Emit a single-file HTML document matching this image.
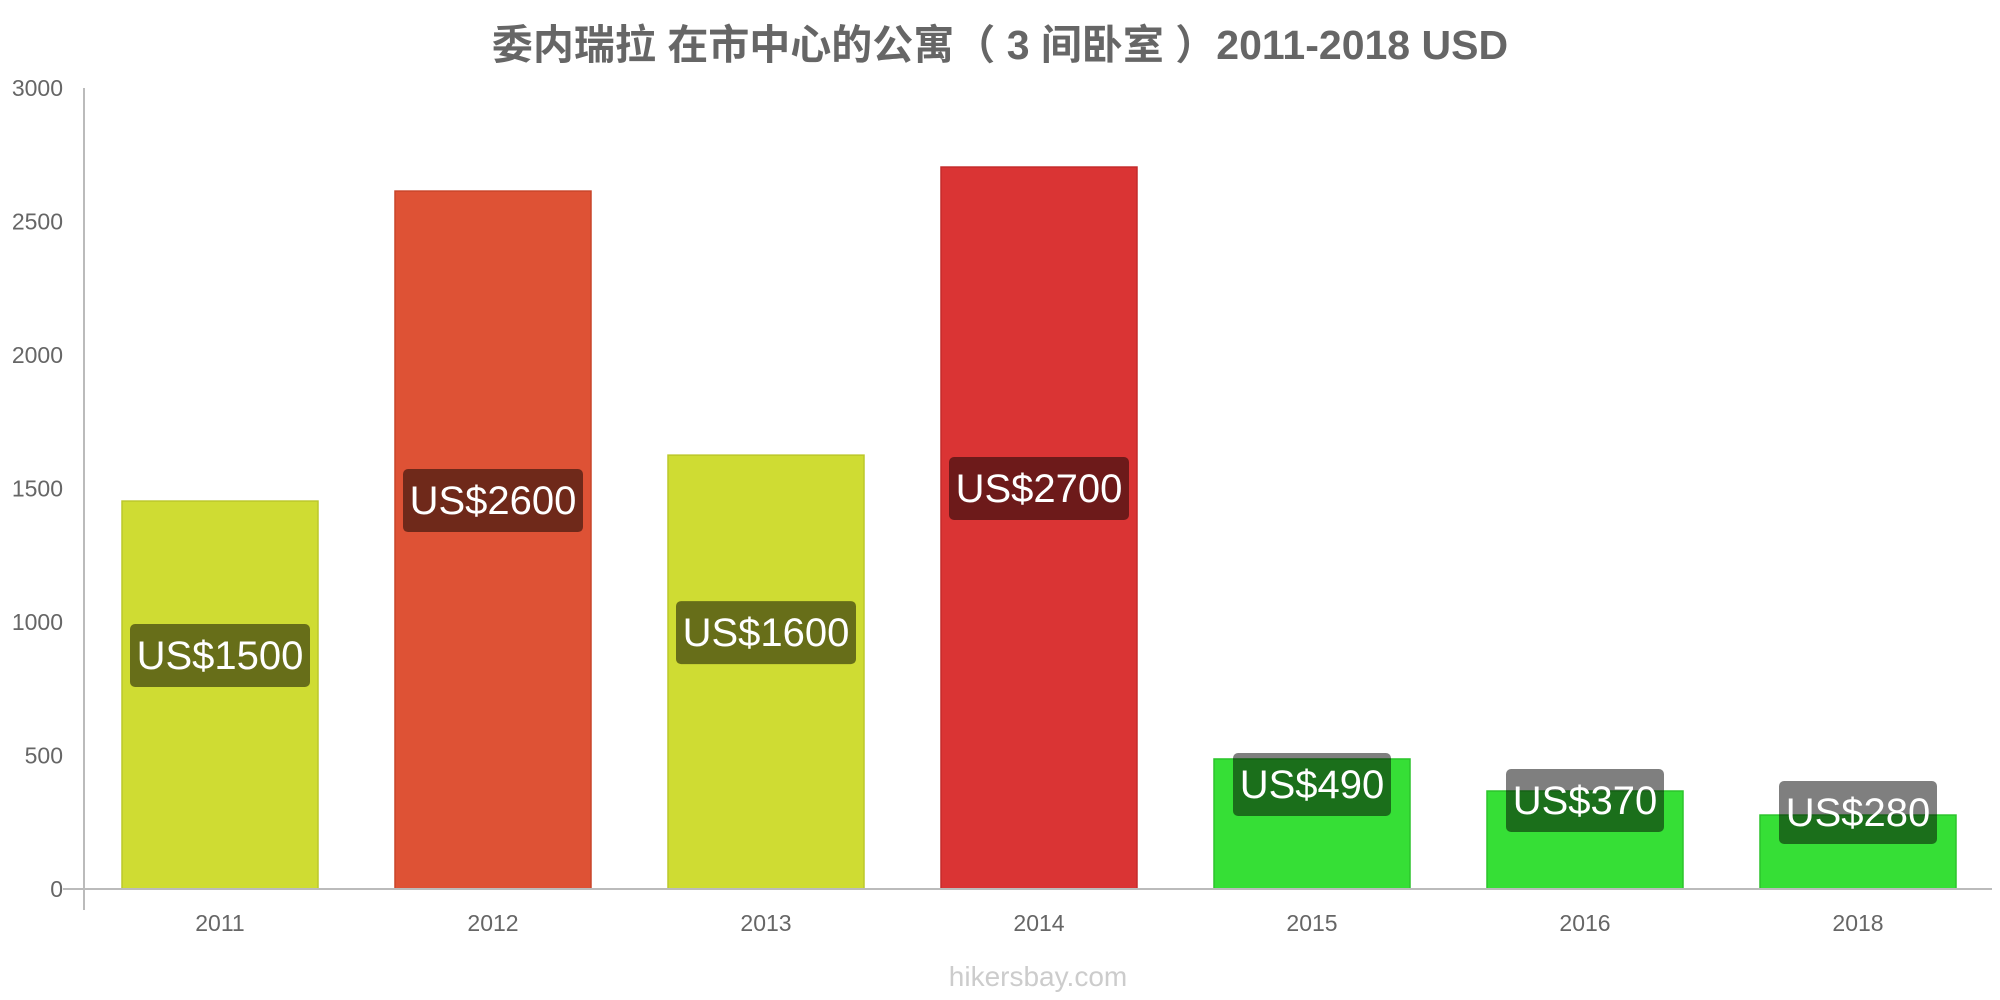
<!DOCTYPE html>
<html><head><meta charset="utf-8"><style>
body{margin:0;background:#fff;}
svg{display:block;font-family:"Liberation Sans","Noto Sans CJK SC",sans-serif;}
</style></head><body>
<svg id="chart" width="2000" height="1000">
<text x="1000" y="59" text-anchor="middle" font-size="41" font-weight="bold" fill="#666">委内瑞拉 在市中心的公寓（ 3 间卧室 ）2011-2018 USD</text>
<g id="yaxis"></g>
<g id="bars"></g>
<g id="xaxis"></g>
<text x="1038" y="986" text-anchor="middle" font-size="28" fill="#ccc">hikersbay.com</text>
</svg>
<script>
const categories=["2011","2012","2013","2014","2015","2016","2018"];
const values=[1453,2614,1625,2704,487,367,277];
const labels=["US$1500","US$2600","US$1600","US$2700","US$490","US$370","US$280"];
const colors=["#cfdc33","#de5235","#cfdc33","#da3434","#36df36","#36df36","#36df36"];
const borders=["#bcc82a","#c9452a","#bcc82a","#c42b2b","#2cc42c","#2cc42c","#2cc42c"];
const yTicks=[0,500,1000,1500,2000,2500,3000];
const NS="http://www.w3.org/2000/svg";
const x0=84,x1=1992,yTop=88,yBot=889,yMax=3000,step=273,first=220,bw=196;
const y=v=>yBot-(v/yMax)*(yBot-yTop);
const xc=i=>first+i*step;
function mk(tag,attrs,parent,txt){const e=document.createElementNS(NS,tag);for(const k in attrs)e.setAttribute(k,attrs[k]);if(txt!==undefined)e.textContent=txt;parent.appendChild(e);return e;}
const ya=document.getElementById('yaxis'),ba=document.getElementById('bars'),xa=document.getElementById('xaxis');
let l=mk('line',{x1:x0,y1:yTop,x2:x0,y2:910,stroke:'#bbb','stroke-width':2},ya);


yTicks.forEach(t=>{const e=mk('text',{x:63,y:y(t)+8,'text-anchor':'end','font-size':23,fill:'#666'},ya,String(t));

});
let tk=mk('line',{x1:63,y1:yBot,x2:x0,y2:yBot,stroke:'#bbb','stroke-width':2},ya);


categories.forEach((c,i)=>{
 const top=y(values[i]);
 const r=mk('rect',{x:xc(i)-bw/2,y:top,width:bw,height:yBot-top,fill:colors[i],stroke:borders[i],'stroke-width':1.5},ba);
 
 
 const cy=(top+yBot)/2-40;
 const g=mk('g',{},ba);
 
 
 const w=labels[i].length*22+26;
 mk('rect',{x:xc(i)-w/2,y:cy-31,width:w,height:63,rx:5,fill:'rgba(0,0,0,0.5)'},g);
 mk('text',{x:xc(i),y:cy+14,'text-anchor':'middle','font-size':40,fill:'#fff'},g,labels[i]);
 const t=mk('text',{x:xc(i),y:931,'text-anchor':'middle','font-size':23,fill:'#666'},xa,c);
 
 
});
let xl=mk('line',{x1:x0,y1:yBot,x2:x1,y2:yBot,stroke:'#bbb','stroke-width':2},xa);


</script>
</body></html>
